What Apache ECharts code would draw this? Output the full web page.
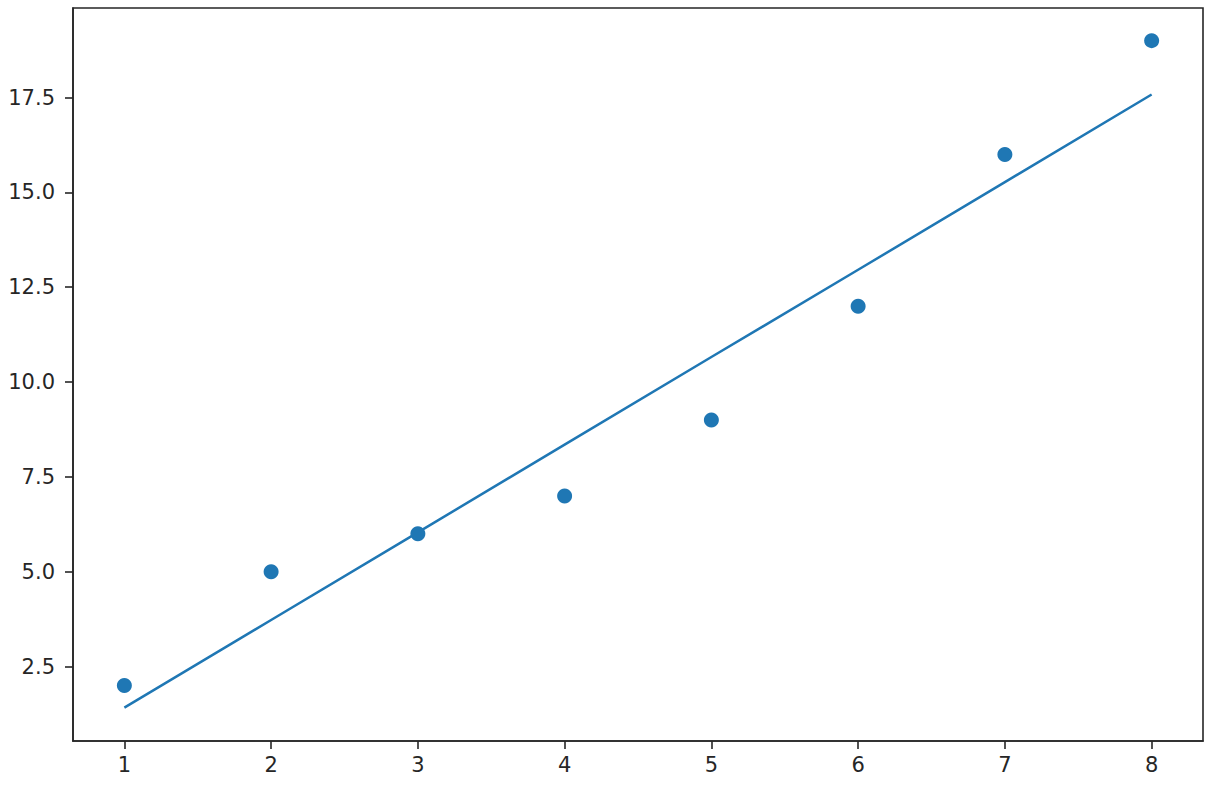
<!DOCTYPE html>
<html>
<head>
<meta charset="utf-8">
<script src="https://cdn.jsdelivr.net/npm/echarts@6/dist/echarts.min.js"></script>
<style>
  html, body { margin: 0; padding: 0; background: #fff; }
  #chart { width: 1221px; height: 786px; }
</style>
</head>
<body>
<div id="chart"></div>
<script>
// data
var xValues = [1, 2, 3, 4, 5, 6, 7, 8];
var yValues = [2, 5, 6, 7, 9, 12, 16, 19];
var fitValues = [1.42, 3.73, 6.04, 8.35, 10.66, 12.96, 15.27, 17.58];
var xTicks = [1, 2, 3, 4, 5, 6, 7, 8];
var yTicks = [2.5, 5, 7.5, 10, 12.5, 15, 17.5];

var scatterData = xValues.map(function (x, i) { return [x, yValues[i]]; });
var lineData = xValues.map(function (x, i) { return [x, fitValues[i]]; });

var chart = echarts.init(document.getElementById('chart'), null, {renderer: 'svg'});
var axisFont = { fontFamily: 'DejaVu Sans', fontSize: 21, color: '#262626' };
var frame = { show: true, lineStyle: { color: '#262626', width: 1.6 } };
var tickStyle = { color: '#262626', width: 1.6 };

chart.setOption({
  animation: false,
  grid: { left: 73, right: 18, top: 8, bottom: 45, show: true, borderColor: '#262626', borderWidth: 1.6 },
  xAxis: {
    type: 'value', min: 0.65, max: 8.35,
    axisLine: frame,
    splitLine: { show: false },
    axisTick: { show: true, length: 8, customValues: xTicks, lineStyle: tickStyle },
    axisLabel: Object.assign({ customValues: xTicks, margin: 13 }, axisFont)
  },
  yAxis: {
    type: 'value', min: 0.54, max: 19.86,
    axisLine: frame,
    splitLine: { show: false },
    axisTick: { show: true, length: 8, customValues: yTicks, lineStyle: tickStyle },
    axisLabel: Object.assign({
      customValues: yTicks, margin: 18,
      formatter: function (v) { return v.toFixed(1); }
    }, axisFont)
  },
  series: [
    {
      type: 'line', data: lineData, showSymbol: false,
      lineStyle: { color: '#1f77b4', width: 2.5 }, z: 2
    },
    {
      type: 'scatter', data: scatterData, symbolSize: 15,
      itemStyle: { color: '#1f77b4', opacity: 1 }, z: 3
    }
  ]
});
</script>
</body>
</html>
